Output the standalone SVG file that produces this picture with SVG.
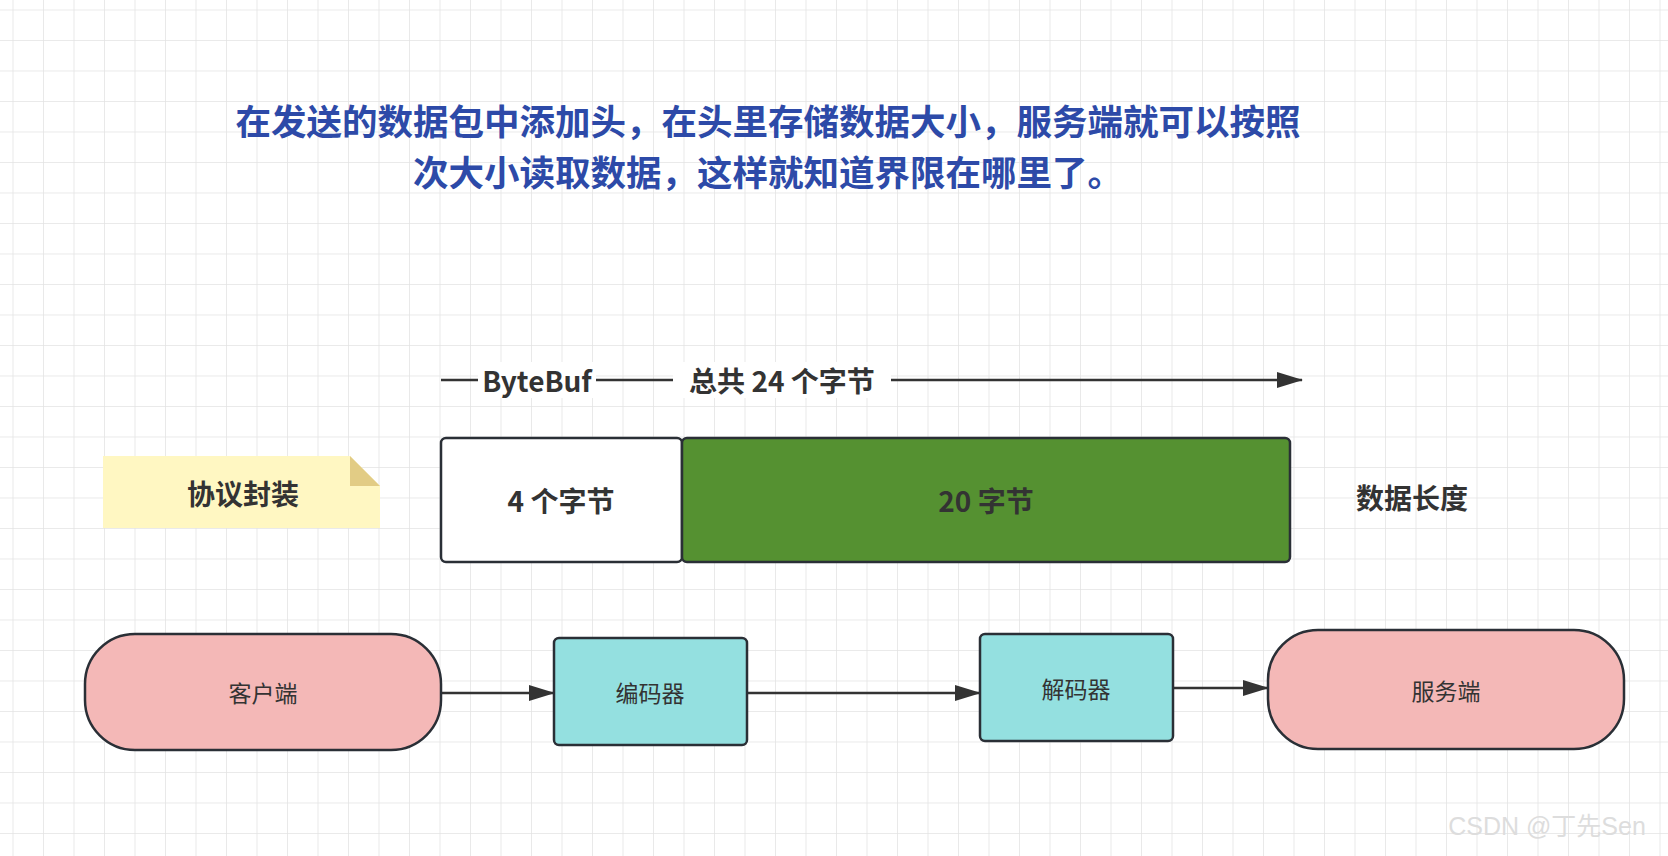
<svg xmlns="http://www.w3.org/2000/svg" width="1668" height="856" viewBox="0 0 1668 856">
<defs>
<pattern id="g" width="30.5" height="30.5" patternUnits="userSpaceOnUse" x="12.5" y="9.5">
<path d="M0 0H30.5M0 0V30.5" stroke="#e3e3e3" stroke-width="1.5" fill="none"/>
</pattern>
<marker id="b" markerWidth="26" markerHeight="16" refX="25" refY="8" orient="auto" markerUnits="userSpaceOnUse"><path d="M0 0L26 8L0 16Z" fill="#333"/></marker>
</defs>
<style>
text{font-family:"Noto Sans CJK SC","Noto Sans",sans-serif;fill:#333;text-anchor:middle;dominant-baseline:central}
.big{font-size:28px;font-weight:bold}
.n{font-size:23px}
.box{stroke:#2a2f36;stroke-width:2.5}
</style>
<rect width="1668" height="856" fill="#fff"/>
<rect width="1668" height="856" fill="url(#g)"/>
<g id="title">
<text x="768" y="119" style="font-size:35.5px;font-weight:bold;fill:#2d4aa8">在发送的数据包中添加头，在头里存储数据大小，服务端就可以按照</text>
<text x="768" y="170" style="font-size:35.5px;font-weight:bold;fill:#2d4aa8">次大小读取数据，这样就知道界限在哪里了。</text>
</g>
<g id="connectors" fill="none" stroke="#333" stroke-width="2.5">
<path d="M441 380H1302" marker-end="url(#b)"/>
<path d="M441 693H554" marker-end="url(#b)"/>
<path d="M747 693H980" marker-end="url(#b)"/>
<path d="M1173 688H1268" marker-end="url(#b)"/>
</g>
<g id="labels">
<rect x="478" y="362" width="118" height="36" fill="#fff"/>
<text class="big" x="537" y="380">ByteBuf</text>
<rect x="673" y="362" width="218" height="36" fill="#fff"/>
<text class="big" x="782" y="380">总共 24 个字节</text>
</g>
<g id="header"><rect class="box" x="441" y="438" width="241" height="124" rx="5" fill="#fff"/><text class="big" x="561" y="500">4 个字节</text></g>
<g id="body"><rect class="box" x="682" y="438" width="608" height="124" rx="5" fill="#559131"/><text class="big" x="986" y="500">20 字节</text></g>
<g id="note"><path d="M103 456H350L380 486V528H103Z" fill="#fff7c2"/><path d="M350 456V486H380Z" fill="#e2cc85"/><text class="big" x="243" y="493">协议封装</text></g>
<g id="len"><text class="big" x="1412" y="497">数据长度</text></g>
<g id="client"><rect class="box" x="85" y="634" width="356" height="116" rx="50" fill="#f4b8b7"/><text class="n" x="263" y="692">客户端</text></g>
<g id="encoder"><rect class="box" x="554" y="638" width="193" height="107" rx="5" fill="#94e0e0"/><text class="n" x="650" y="692">编码器</text></g>
<g id="decoder"><rect class="box" x="980" y="634" width="193" height="107" rx="5" fill="#94e0e0"/><text class="n" x="1076" y="688">解码器</text></g>
<g id="server"><rect class="box" x="1268" y="630" width="356" height="119" rx="50" fill="#f4b8b7"/><text class="n" x="1446" y="690">服务端</text></g>
<text x="1547" y="826" style="font-size:25px;fill:#ddd;font-family:'Liberation Sans','Noto Sans CJK SC',sans-serif">CSDN @丁先Sen</text>
</svg>
